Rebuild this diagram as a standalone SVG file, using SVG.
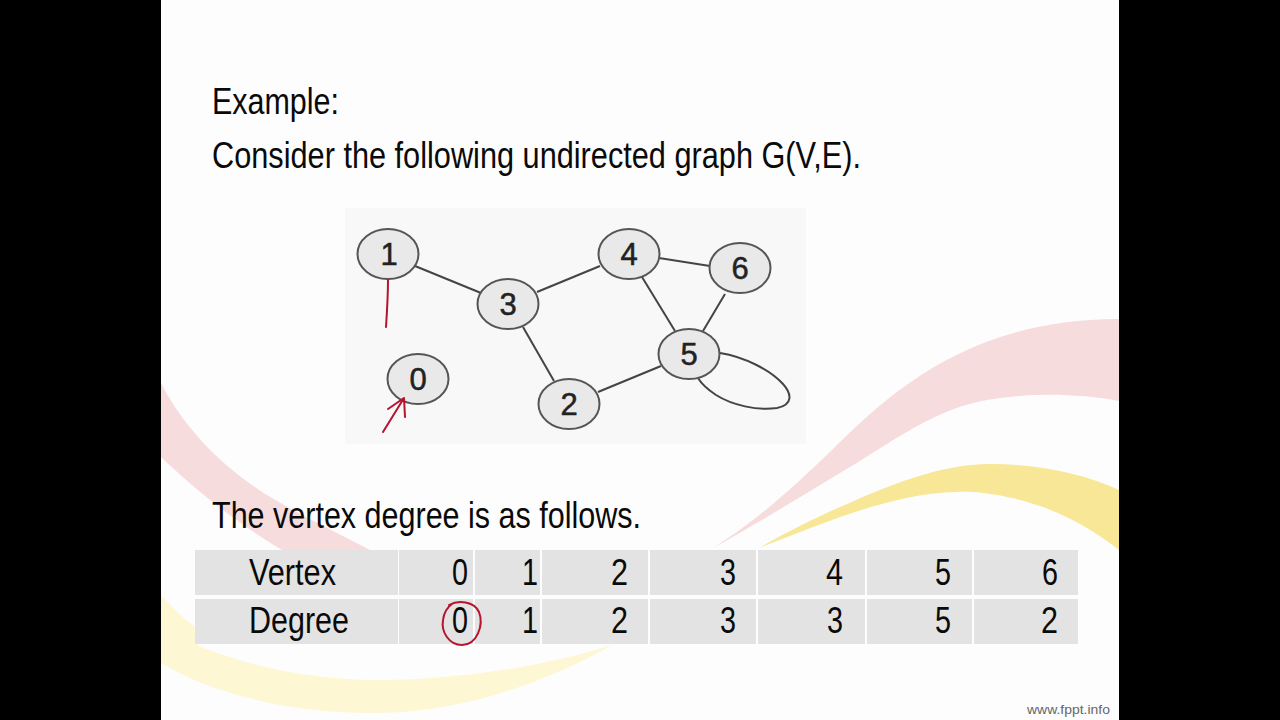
<svg xmlns="http://www.w3.org/2000/svg" width="1280" height="720" viewBox="0 0 1280 720">
<style>
.t{font-family:"Liberation Sans",Arial,sans-serif;font-size:36px;fill:#0a0a0a}
.c{fill:#e3e3e3}
.n{font-family:"Liberation Sans",Arial,sans-serif;font-size:31px;fill:#222;stroke:#222;stroke-width:.5;text-anchor:middle}
.v{fill:#e9e9e9;stroke:#555;stroke-width:2}
.e{fill:none;stroke:#444;stroke-width:2}
.r{fill:none;stroke:#b5132e;stroke-width:2;stroke-linecap:round;stroke-linejoin:round}
</style>
<rect width="1280" height="720" fill="#000"/>
<rect x="161" y="0" width="958" height="720" fill="#fdfdfd"/>
<path d="M161 383C185 430 225 470 272 498C305 518 340 534 370 550L282 550C240 525 195 490 161 457Z" fill="#f6dcdd"/>
<path d="M713 548C760 518 790 490 830 452C890 392 970 319 1119 319L1119 401C1075 393 1020 392 973 403C925 415 880 450 840 473C800 497 755 525 713 548Z" fill="#f6dcdd"/>
<path d="M759 548C785 533 815 518 840 507C890 485 940 464 990 464C1040 464 1085 474 1119 490L1119 550C1090 527 1050 505 1007 497C990 493 970 491 957 492C915 493 875 505 840 517C810 528 785 538 759 548Z" fill="#f7e797"/>
<path d="M161 595C175 610 185 620 197 628L197 645C230 660 300 680 380 680C460 680 550 665 612 645C560 675 470 713 377 713C290 713 215 695 161 663Z" fill="#fdf7d3"/>
<g id="title">
<text class="t" x="212" y="114" textLength="127" lengthAdjust="spacingAndGlyphs">Example:</text>
<text class="t" x="212" y="168" textLength="649" lengthAdjust="spacingAndGlyphs">Consider the following undirected graph G(V,E).</text>
<text class="t" x="212" y="528" textLength="429" lengthAdjust="spacingAndGlyphs">The vertex degree is as follows.</text>
</g>
<rect x="345" y="208" width="461" height="236" fill="#f8f8f8"/>
<g id="connectors">
<line class="e" x1="415" y1="266" x2="481" y2="293"/>
<line class="e" x1="537" y1="292" x2="600" y2="266"/>
<line class="e" x1="659" y1="258" x2="710" y2="266"/>
<line class="e" x1="642" y1="277" x2="675" y2="331"/>
<line class="e" x1="725" y1="294" x2="703" y2="331"/>
<line class="e" x1="523" y1="327" x2="554" y2="381"/>
<line class="e" x1="598" y1="392" x2="661" y2="366"/>
<path class="e" d="M720 353C745 357 770 370 783 384C792 394 793 405 777 408C757 411 732 405 716 395C707 389 701 383 698 378"/>
</g>
<g id="node-1"><ellipse class="v" cx="388" cy="254" rx="30.5" ry="25"/><text class="n" x="389" y="265">1</text></g>
<g id="node-3"><ellipse class="v" cx="508" cy="304" rx="30.5" ry="25"/><text class="n" x="508" y="315">3</text></g>
<g id="node-4"><ellipse class="v" cx="629" cy="254" rx="30.5" ry="25"/><text class="n" x="629" y="265">4</text></g>
<g id="node-6"><ellipse class="v" cx="740" cy="268" rx="30.5" ry="25"/><text class="n" x="740" y="279">6</text></g>
<g id="node-5"><ellipse class="v" cx="689" cy="354" rx="30.5" ry="25"/><text class="n" x="689" y="365">5</text></g>
<g id="node-2"><ellipse class="v" cx="569" cy="404" rx="30.5" ry="25"/><text class="n" x="569" y="415">2</text></g>
<g id="node-0"><ellipse class="v" cx="418" cy="379" rx="30.5" ry="25"/><text class="n" x="418" y="390">0</text></g>
<g id="annotations">
<path class="r" d="M388 280C388 297 387 312 386 327"/>
<path class="r" d="M383 432L404 398M388 409L404 398L405 417"/>
</g>
<g id="table">
<rect class="c" x="195" y="550" width="203" height="45"/><rect class="c" x="399" y="550" width="74" height="45"/><rect class="c" x="475" y="550" width="65" height="45"/><rect class="c" x="542" y="550" width="106" height="45"/><rect class="c" x="650" y="550" width="106" height="45"/><rect class="c" x="758" y="550" width="107" height="45"/><rect class="c" x="867" y="550" width="105" height="45"/><rect class="c" x="974" y="550" width="104" height="45"/>
<rect class="c" x="195" y="599" width="203" height="45"/><rect class="c" x="399" y="599" width="74" height="45"/><rect class="c" x="475" y="599" width="65" height="45"/><rect class="c" x="542" y="599" width="106" height="45"/><rect class="c" x="650" y="599" width="106" height="45"/><rect class="c" x="758" y="599" width="107" height="45"/><rect class="c" x="867" y="599" width="105" height="45"/><rect class="c" x="974" y="599" width="104" height="45"/>
<text class="t" x="249" y="585" textLength="87" lengthAdjust="spacingAndGlyphs">Vertex</text>
<text class="t" x="249" y="633" textLength="100" lengthAdjust="spacingAndGlyphs">Degree</text>
<g text-anchor="end">
<text class="t" x="468" y="585" textLength="16" lengthAdjust="spacingAndGlyphs">0</text>
<text class="t" x="538" y="585" textLength="16" lengthAdjust="spacingAndGlyphs">1</text>
<text class="t" x="628" y="585" textLength="17" lengthAdjust="spacingAndGlyphs">2</text>
<text class="t" x="736" y="585" textLength="16" lengthAdjust="spacingAndGlyphs">3</text>
<text class="t" x="843" y="585" textLength="17" lengthAdjust="spacingAndGlyphs">4</text>
<text class="t" x="951" y="585" textLength="16" lengthAdjust="spacingAndGlyphs">5</text>
<text class="t" x="1058" y="585" textLength="16" lengthAdjust="spacingAndGlyphs">6</text>
<text class="t" x="468" y="633" textLength="16" lengthAdjust="spacingAndGlyphs">0</text>
<text class="t" x="538" y="633" textLength="16" lengthAdjust="spacingAndGlyphs">1</text>
<text class="t" x="628" y="633" textLength="17" lengthAdjust="spacingAndGlyphs">2</text>
<text class="t" x="736" y="633" textLength="16" lengthAdjust="spacingAndGlyphs">3</text>
<text class="t" x="843" y="633" textLength="16" lengthAdjust="spacingAndGlyphs">3</text>
<text class="t" x="951" y="633" textLength="16" lengthAdjust="spacingAndGlyphs">5</text>
<text class="t" x="1058" y="633" textLength="17" lengthAdjust="spacingAndGlyphs">2</text>
</g>
<path class="r" d="M449 605C458 600 474 601 479 612C484 625 477 645 462 645C449 645 441 632 443 620C444 613 446 608 452 604"/>
</g>
<text x="1027" y="714" font-family="'Liberation Sans',Arial,sans-serif" font-size="13.5" fill="#666" textLength="83" lengthAdjust="spacingAndGlyphs">www.fppt.info</text>
</svg>
